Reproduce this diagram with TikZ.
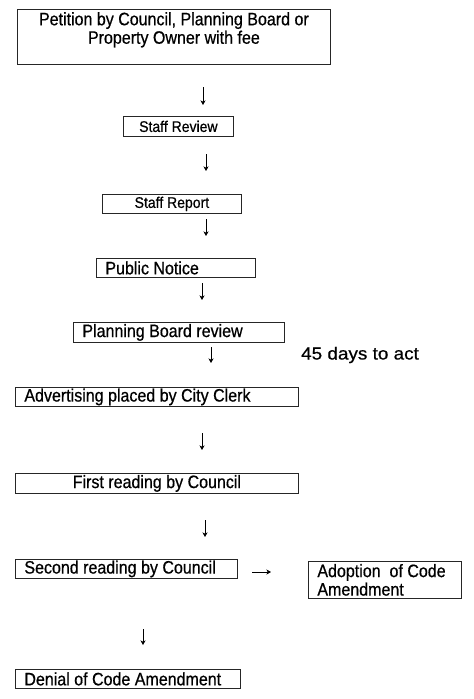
\documentclass[tikz,border=0pt]{standalone}
\usepackage{fontspec}
\setmainfont{Liberation Sans}
\newfontfamily\tallf[FakeStretch=0.89,FakeBold=0.6]{Liberation Sans}
\newfontfamily\tallsmallf[FakeStretch=0.91,FakeBold=0.6]{Liberation Sans}
\newfontfamily\daysf[FakeStretch=1.08,FakeBold=0.6]{Liberation Sans}
\usetikzlibrary{arrows.meta}
\begin{document}
\begin{tikzpicture}[x=1pt,y=-1pt,
  box/.style={draw=black!85, line width=0.8pt, anchor=north west, inner ysep=0pt,
    font=\tallf\fontsize{18}{18.5}\selectfont},
  lbox/.style={box, align=flush left, inner xsep=9pt},
  cbox/.style={box, align=flush center, inner xsep=0pt},
  smallbox/.style={cbox, font=\tallsmallf\fontsize{15.4}{17}\selectfont},
  flow/.style={line width=0.75pt, -{Stealth[length=4.5pt,width=5pt,inset=1.2pt]}}]
\useasboundingbox (0,0) rectangle (474,699);
% boxes
\node[cbox, minimum width=313pt, minimum height=55pt] (petition) at (17,9) {};
\node[anchor=north, align=flush center, inner sep=0pt, font=\tallf\fontsize{18}{18.5}\selectfont]
  (petitiontext) at ([yshift=-3pt]petition.north) {Petition by Council, Planning Board or\\Property Owner with fee};
\node[smallbox, minimum width=110pt, minimum height=20pt] (review) at (123,116) {Staff Review};
\node[smallbox, minimum width=139pt, minimum height=19pt] (report) at (102,194) {Staff Report};
\node[lbox, text width=141pt, minimum height=19pt] (notice) at (96,258) {Public Notice};
\node[lbox, text width=193pt, minimum height=20pt] (board) at (73,322) {Planning Board review};
\node[anchor=base west, inner sep=0pt, font=\daysf\fontsize{17.5}{22}\selectfont] (days) at (301,359.5) {45 days to act};
\node[lbox, text width=265pt, minimum height=19pt] (advert) at (15,387) {Advertising placed by City Clerk};
\node[cbox, minimum width=283pt, minimum height=20pt] (first) at (15,473) {First reading by Council};
\node[lbox, text width=204pt, minimum height=19pt] (second) at (15,559) {Second reading by Council};
\node[lbox, text width=135pt, minimum height=37pt] (adoption) at (308,561) {Adoption\ \ of Code\\Amendment};
\node[lbox, text width=207pt, minimum height=19pt] (denial) at (15,669) {Denial of Code Amendment};
% arrow coordinates
\coordinate (a1s) at (203,87);  \coordinate (a1e) at (203,105);
\coordinate (a2s) at (206,154); \coordinate (a2e) at (206,171);
\coordinate (a3s) at (206,219); \coordinate (a3e) at (206,236);
\coordinate (a4s) at (202,283); \coordinate (a4e) at (202,300);
\coordinate (a5s) at (211,347); \coordinate (a5e) at (211,363);
\coordinate (a6s) at (202,433); \coordinate (a6e) at (202,450);
\coordinate (a7s) at (205,520); \coordinate (a7e) at (205,537);
\coordinate (a8s) at (143,629); \coordinate (a8e) at (143,645);
\coordinate (ars) at (252,572); \coordinate (are) at (271,572);
\draw[flow] (a1s) -- (a1e);
\draw[flow] (a2s) -- (a2e);
\draw[flow] (a3s) -- (a3e);
\draw[flow] (a4s) -- (a4e);
\draw[flow] (a5s) -- (a5e);
\draw[flow] (a6s) -- (a6e);
\draw[flow] (a7s) -- (a7e);
\draw[flow] (a8s) -- (a8e);
\draw[flow] (ars) -- (are);
\end{tikzpicture}
\end{document}
